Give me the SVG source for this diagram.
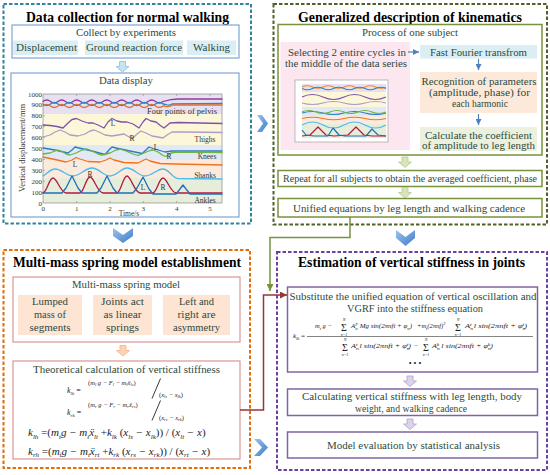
<svg xmlns="http://www.w3.org/2000/svg" width="550" height="475" viewBox="0 0 550 475" font-family="'Liberation Serif','DejaVu Serif','Noto Serif',serif">
<defs>
<style>
text{font-family:'Liberation Serif','DejaVu Serif','Noto Serif',serif}
.ttl{font-size:15px;font-weight:bold;fill:#000;text-anchor:middle}
.t{font-size:10.5px;fill:#2d4a3c;text-anchor:middle}
.ax{font-size:7px;fill:#333;text-anchor:end}
.axm{font-size:7px;fill:#333;text-anchor:middle}
.lb{font-size:7.5px;fill:#333;text-anchor:middle}
.eq{font-style:italic;fill:#222}
.sg{fill:#222;text-anchor:middle}
.c{fill:none;stroke-width:1.3;stroke-linejoin:round;stroke-linecap:round}
.mc{fill:none;stroke-width:1.2;stroke-linejoin:round}
.dash{fill:none;stroke-width:2;stroke-dasharray:3.5 2}
</style>
<linearGradient id="chev" x1="0" y1="0" x2="1" y2="1">
<stop offset="0" stop-color="#9cc3ec"/><stop offset="1" stop-color="#3d7cc9"/>
</linearGradient>
<path id="harrow" d="M-3,0h6v5h3.5l-6.5,5.5l-6.5,-5.5h3.5z"/>
<marker id="mBlue" markerWidth="6" markerHeight="6" refX="6" refY="3" orient="auto" markerUnits="userSpaceOnUse"><path d="M0,0L6,3L0,6z" fill="#4f81bd"/></marker>
<marker id="mGreen" markerWidth="7" markerHeight="7" refX="7" refY="3.5" orient="auto" markerUnits="userSpaceOnUse"><path d="M0,0L7,3.5L0,7z" fill="#77933c"/></marker>
<marker id="mRed" markerWidth="7" markerHeight="7" refX="7" refY="3.5" orient="auto" markerUnits="userSpaceOnUse"><path d="M0,0L7,3.5L0,7z" fill="#953735"/></marker>
</defs>
<rect width="550" height="475" fill="#fff"/>

<!-- Panel 1 -->
<g id="panel-data-collection">
<rect class="dash" x="3.5" y="4" width="247.5" height="219.5" stroke="#31849b"/>
<text class="ttl" x="127.5" y="22" textLength="203" lengthAdjust="spacingAndGlyphs">Data collection for normal walking</text>
</g>
<g id="node-collect">
<rect x="12" y="25" width="227" height="33" fill="#fff" stroke="#7ea6d3" stroke-width="1.2"/>
<text class="t" x="126" y="36" textLength="100" lengthAdjust="spacingAndGlyphs">Collect by experiments</text>
<rect x="13" y="40.5" width="65" height="14.5" fill="#dbeef4"/>
<rect x="85" y="40.5" width="98" height="14.5" fill="#dbeef4"/>
<rect x="187" y="40.5" width="49" height="14.5" fill="#dbeef4"/>
<text class="t" x="46.5" y="51" textLength="61" lengthAdjust="spacingAndGlyphs">Displacement</text>
<text class="t" x="134" y="51" textLength="96" lengthAdjust="spacingAndGlyphs">Ground reaction force</text>
<text class="t" x="211.5" y="51" textLength="37" lengthAdjust="spacingAndGlyphs">Walking</text>
</g>
<use href="#harrow" x="122.5" y="61.5" fill="#c6e3ee" stroke="#8fbcd8" stroke-width="0.8"/>
<g id="node-data-display">
<rect x="11" y="73" width="228" height="144" fill="#fff" stroke="#7ea6d3" stroke-width="1.2"/>
<text class="t" x="126" y="84" textLength="54" lengthAdjust="spacingAndGlyphs">Data display</text>
<rect x="43" y="94" width="179" height="20" fill="#e6e0f0"/>
<rect x="43" y="114" width="179" height="31" fill="#fdf7d9"/>
<rect x="43" y="145" width="179" height="15" fill="#e1eaf4"/>
<rect x="43" y="160" width="179" height="18" fill="#fcebdd"/>
<rect x="43" y="178" width="179" height="25" fill="#e6eedb"/>
<rect x="43" y="94" width="179" height="109" fill="none" stroke="#8a8a8a" stroke-width="0.7"/>
<g stroke="#8a8a8a" stroke-width="0.6">
<path d="M76.7,94v2M110,94v2M143.3,94v2M176.7,94v2M210,94v2M76.7,203v-2M110,203v-2M143.3,203v-2M176.7,203v-2M210,203v-2"/>
<path d="M43,104.9h2M43,115.8h2M43,126.7h2M43,137.6h2M43,148.5h2M43,159.4h2M43,170.3h2M43,181.2h2M43,192.1h2"/>
</g>
<g>
<text class="ax" x="42" y="96.5">1000</text><text class="ax" x="42" y="107.4">900</text><text class="ax" x="42" y="118.3">800</text>
<text class="ax" x="42" y="129.2">700</text><text class="ax" x="42" y="140.1">600</text><text class="ax" x="42" y="151">500</text>
<text class="ax" x="42" y="161.9">400</text><text class="ax" x="42" y="172.8">300</text><text class="ax" x="42" y="183.7">200</text>
<text class="ax" x="42" y="194.6">100</text><text class="ax" x="42" y="205.5">0</text>
</g>
<g>
<text class="axm" x="43.3" y="210.5">0</text><text class="axm" x="76.7" y="210.5">1</text><text class="axm" x="110" y="210.5">2</text>
<text class="axm" x="143.3" y="210.5">3</text><text class="axm" x="176.7" y="210.5">4</text><text class="axm" x="210" y="210.5">5</text>
</g>
<text class="lb" x="129" y="215.5">Time/s</text>
<text class="lb" font-size="8" transform="translate(25,148) rotate(-90)" textLength="88" lengthAdjust="spacingAndGlyphs">Vertical displacement/mm</text>
<path class="c" stroke="#8e3a9e" d="M43,101.5q3.75,-3 7.5,0t7.5,0t7.5,0t7.5,0t7.5,0t7.5,0t7.5,0t7.5,0t7.5,0t7.5,0t7.5,0t7.5,0t7.5,0t7.5,0t7.5,0t7.5,0C168,100 172,99 178,99L222,99"/>
<path class="c" stroke="#2e86c8" d="M43,104q3.75,3 7.5,0t7.5,0t7.5,0t7.5,0t7.5,0t7.5,0t7.5,0t7.5,0t7.5,0t7.5,0t7.5,0t7.5,0t7.5,0t7.5,0t7.5,0t7.5,0C167,104 168,107 172,104L222,103.5"/>
<path class="c" stroke="#e8702a" d="M43,106q3.75,-3 7.5,0t7.5,0t7.5,0t7.5,0t7.5,0t7.5,0t7.5,0t7.5,0t7.5,0t7.5,0t7.5,0t7.5,0t7.5,0t7.5,0t7.5,0t7.5,0C167,106 168,108 173,105L222,105"/>
<path class="c" stroke="#7d52a8" d="M43,125L50,125.5L57,126.5L63,128L68,123L72,119.5L76.5,118.5L82,121L88,123L93,123L98,125L104,128L108,122L112,118.5L117,121L122,122L127,122L133,124L139,128L143,122L146,118.5L151,121L156,122L161,126L164,128L170,123L178,122.5L200,123L222,123.5"/>
<path class="c" stroke="#ac9dc6" d="M43,137L50,135L55,132L60,130L65,132L70,135L78,136L85,134L90,131L94,130L99,132L105,135L112,136L118,135L124,134L129,137L133,138L137,134L141,131L146,133L152,136L158,137L163,138L167,135L172,132L185,132L222,132.5"/>
<path class="c" stroke="#2e7bc0" d="M43,148L55,150L68,153L72,150L75,147L79,148L92,151L105,154.5L109,150L112,147L116,148L130,151L142,153.5L146,150L149,147L153,148.5L165,152L172,151L222,151"/>
<path class="c" stroke="#6fb43f" d="M43,154L50,153L55,151L58,150L62,151.5L66,154L70,155L76,153L82,150L87,149L92,151L98,154L102,155L110,153L116,150L120,149L126,151L133,154L138,155.5L144,153L150,150.5L153,150L158,152L163,155.5L166,156.5L171,153L177,152L222,152.5"/>
<path class="c" stroke="#ed7422" d="M43,157L55,159.5L66,162L72,160L76,157.5L80,159L88,161.5L100,162L106,160L110,158L114,160L124,162.5L138,163L143,160.5L146,159L150,161L160,163.5L175,164L222,165"/>
<path class="c" stroke="#4bbbec" d="M43,176C47,174 50,169 55,169C62,169 66,176 73,176C80,176 85,168 92,168C99,168 103,176 110,176C117,176 121,168 127,168C134,168 138,176 145,176C152,176 157,169 163,169C169,169 172,178 178,178.5L222,179"/>
<path class="c" stroke="#b11a3e" d="M43,193C47,192 49,178 53,178C57,178 60,192 66,193L80,193C84,192 86,177 90,177C94,177 97,192 103,193L117,193C121,192 123,176 127,176C131,176 134,192 140,193L153,193C157,192 159,178 163,178C167,178 170,192 176,193L222,193"/>
<path class="c" stroke="#1f6fb8" d="M43,193L62,193L66,188L72,176L78,188L82,193L97,193L101,188L107,176L113,188L117,193L133,193L137,188L143,177L149,189L153,194L176,194L180,189L183,185L186,189L190,194L222,194"/>
<g>
<text class="lb" x="182" y="113.5" textLength="70" lengthAdjust="spacingAndGlyphs">Four points of pelvis</text>
<text class="lb" x="205" y="142">Thighs</text>
<text class="lb" x="207" y="159">Knees</text>
<text class="lb" x="205" y="177.5">Shanks</text>
<text class="lb" x="205" y="202.5">Ankles</text>
<text class="lb" x="113" y="126">L</text><text class="lb" x="132" y="141">R</text>
<text class="lb" x="156" y="149.5">L</text><text class="lb" x="169" y="158.5">R</text>
<text class="lb" x="75" y="167">L</text><text class="lb" x="90" y="177">R</text>
<text class="lb" x="143" y="190">L</text><text class="lb" x="163" y="190">R</text>
</g>
</g>

<!-- Panel 2 -->
<g id="panel-kinematics">
<rect class="dash" x="273.5" y="4" width="273.5" height="220.5" stroke="#4f6228"/>
<text class="ttl" x="410" y="21.5" textLength="224" lengthAdjust="spacingAndGlyphs">Generalized description of  kinematics</text>
</g>
<g id="node-process">
<rect x="278" y="24.5" width="264" height="130.5" fill="#fff" stroke="#77933c" stroke-width="1.5"/>
<text class="t" x="410" y="36" textLength="96" lengthAdjust="spacingAndGlyphs">Process of one subject</text>
</g>
<g id="node-selecting">
<rect x="280.5" y="42" width="129.5" height="108" fill="#fce6ef"/>
<text class="t" x="347" y="56" textLength="118" lengthAdjust="spacingAndGlyphs">Selecting 2 entire cycles in</text>
<text class="t" x="346" y="67" textLength="122" lengthAdjust="spacingAndGlyphs">the middle of the data series</text>
<rect x="295" y="80" width="93" height="62" fill="#fff" stroke="#a0a0a0" stroke-width="0.7"/>
<rect x="302" y="84" width="84" height="8" fill="#e6e0f0"/>
<rect x="302" y="92" width="84" height="15" fill="#fdf7d9"/>
<rect x="302" y="107" width="84" height="9" fill="#e1eaf4"/>
<rect x="302" y="116" width="84" height="8" fill="#fcebdd"/>
<rect x="302" y="124" width="84" height="14" fill="#e6eedb"/>
<path class="mc" stroke="#f08a24" stroke-width="1.8" d="M302,87q5.25,-2.5 10.5,0t10.5,0t10.5,0t10.5,0t10.5,0t10.5,0t10.5,0t10.5,0"/>
<path class="mc" stroke="#2e86c8" stroke-width="1.6" d="M302,88.5q5.25,2.5 10.5,0t10.5,0t10.5,0t10.5,0t10.5,0t10.5,0t10.5,0t10.5,0"/>
<path class="mc" stroke="#7d52a8" d="M302,97q10.5,-5 21,0t21,0t21,0t21,0"/>
<path class="mc" stroke="#ac9dc6" d="M302,103q10.5,3 21,0t21,0t21,0t21,0"/>
<path class="mc" stroke="#2e7bc0" d="M302,113q10.5,-3 21,0t21,0t21,0t21,0"/>
<path class="mc" stroke="#6fb43f" d="M302,112q7,-3 14,0t14,0t14,0t14,0t14,0t14,0"/>
<path class="mc" stroke="#ed7422" d="M302,118.5q10.5,-2.5 21,0t21,0t21,0t21,0"/>
<path class="mc" stroke="#4bbbec" d="M302,125q10.5,-6 21,0t21,0t21,0t21,0"/>
<path class="mc" stroke="#b11a3e" d="M302,136L310,135L318,127L326,135L334,136L348,135L356,127L364,135L372,136L386,136"/>
<path class="mc" stroke="#1f6fb8" d="M302,130L306,135L314,136L328,136L333,128L339,135L345,136L366,136L372,129L378,135L386,136"/>
</g>
<g id="node-fft">
<rect x="420" y="45" width="117" height="13.5" fill="#daeef3"/>
<text class="t" x="478.5" y="55.5" textLength="97" lengthAdjust="spacingAndGlyphs">Fast Fourier transfrom</text>
</g>
<g id="node-recognition">
<rect x="420" y="72" width="117" height="41" fill="#fde9d9"/>
<text class="t" x="479" y="85" textLength="115" lengthAdjust="spacingAndGlyphs">Recognition of parameters</text>
<text class="t" x="479.5" y="96" textLength="101" lengthAdjust="spacingAndGlyphs">(amplitude, phase) for</text>
<text class="t" x="480" y="107" textLength="56" lengthAdjust="spacingAndGlyphs">each harmonic</text>
</g>
<g id="node-coefficient">
<rect x="420" y="127" width="117" height="24" fill="#ebf1de"/>
<text class="t" x="478.5" y="138.5" textLength="107" lengthAdjust="spacingAndGlyphs">Calculate the coefficient</text>
<text class="t" x="478.5" y="149" textLength="113" lengthAdjust="spacingAndGlyphs">of amplitude to leg length</text>
</g>
<use href="#harrow" x="405" y="157" fill="#d7e4bd" stroke="#b5cc8e" stroke-width="0.8"/>
<g id="node-repeat">
<rect x="278" y="170.5" width="264" height="16" fill="#fff" stroke="#77933c" stroke-width="1.5"/>
<text class="t" x="410" y="182" textLength="254" lengthAdjust="spacingAndGlyphs">Repeat for all subjects to obtain the averaged coefficient, phase</text>
</g>
<use href="#harrow" x="405" y="187.5" fill="#d7e4bd" stroke="#b5cc8e" stroke-width="0.8"/>
<g id="node-unified">
<rect x="278" y="198.5" width="264" height="18.5" fill="#fff" stroke="#77933c" stroke-width="1.5"/>
<text class="t" x="409" y="211.5" textLength="232" lengthAdjust="spacingAndGlyphs">Unified equations by leg length and walking cadence</text>
</g>

<!-- Panel 3 -->
<g id="panel-spring-model">
<rect class="dash" x="3.5" y="250" width="246.5" height="218" stroke="#e46c0a"/>
<text class="ttl" x="127" y="267" textLength="228" lengthAdjust="spacingAndGlyphs">Multi-mass spring model establishment</text>
</g>
<g id="node-multimass">
<rect x="13" y="277" width="227" height="65" fill="#fff" stroke="#d99694" stroke-width="1.2"/>
<text class="t" x="126" y="288" textLength="108" lengthAdjust="spacingAndGlyphs">Multi-mass spring model</text>
<rect x="18" y="295" width="64" height="40" fill="#fde4d3"/>
<rect x="93" y="295" width="59" height="40" fill="#fde4d3"/>
<rect x="163" y="295" width="67" height="40" fill="#fde4d3"/>
<text class="t" x="50" y="305" textLength="36" lengthAdjust="spacingAndGlyphs">Lumped</text><text class="t" x="50" y="318" textLength="32" lengthAdjust="spacingAndGlyphs">mass of</text><text class="t" x="50" y="331" textLength="41" lengthAdjust="spacingAndGlyphs">segments</text>
<text class="t" x="122.5" y="305" textLength="43" lengthAdjust="spacingAndGlyphs">Joints act</text><text class="t" x="122.5" y="318" textLength="38" lengthAdjust="spacingAndGlyphs">as linear</text><text class="t" x="122.5" y="331" textLength="33" lengthAdjust="spacingAndGlyphs">springs</text>
<text class="t" x="196.5" y="305" textLength="35" lengthAdjust="spacingAndGlyphs">Left and</text><text class="t" x="196.5" y="318" textLength="38" lengthAdjust="spacingAndGlyphs">right are</text><text class="t" x="196.5" y="331" textLength="47" lengthAdjust="spacingAndGlyphs">asymmetry</text>
</g>
<use href="#harrow" x="123" y="345.5" fill="#fbd4b4" stroke="#f0b38a" stroke-width="0.8"/>
<g id="node-theoretical">
<rect x="13" y="361" width="227" height="98" fill="#fff" stroke="#d99694" stroke-width="1.2"/>
<text class="t" x="126.5" y="373" textLength="187" lengthAdjust="spacingAndGlyphs">Theoretical calculation of vertical stiffness</text>
<text class="eq" x="67" y="393" font-size="8">k<tspan font-size="5" dy="1.5">lk</tspan><tspan dy="-1.5" font-style="normal"> =</tspan></text>
<text class="eq" x="88" y="385" font-size="6.5"><tspan font-style="normal">(</tspan>m<tspan font-size="4.5" dy="1.2">l</tspan><tspan dy="-1.2"> g − F</tspan><tspan font-size="4.5" dy="1.2">l</tspan><tspan dy="-1.2"> − m</tspan><tspan font-size="4.5" dy="1.2">l</tspan><tspan dy="-1.2">ẍ</tspan><tspan font-size="4.5" dy="1.2">ls</tspan><tspan dy="-1.2" font-style="normal">)</tspan></text>
<text class="eq" x="159" y="397" font-size="6.5"><tspan font-style="normal">(</tspan>x<tspan font-size="4.5" dy="1.2">ls</tspan><tspan dy="-1.2"> − x</tspan><tspan font-size="4.5" dy="1.2">lk</tspan><tspan dy="-1.2" font-style="normal">)</tspan></text>
<text class="eq" x="67" y="415" font-size="8">k<tspan font-size="5" dy="1.5">rk</tspan><tspan dy="-1.5" font-style="normal"> =</tspan></text>
<text class="eq" x="88" y="407" font-size="6.5"><tspan font-style="normal">(</tspan>m<tspan font-size="4.5" dy="1.2">r</tspan><tspan dy="-1.2"> g − F</tspan><tspan font-size="4.5" dy="1.2">r</tspan><tspan dy="-1.2"> − m</tspan><tspan font-size="4.5" dy="1.2">r</tspan><tspan dy="-1.2">ẍ</tspan><tspan font-size="4.5" dy="1.2">rs</tspan><tspan dy="-1.2" font-style="normal">)</tspan></text>
<text class="eq" x="159" y="420" font-size="6.5"><tspan font-style="normal">(</tspan>x<tspan font-size="4.5" dy="1.2">rs</tspan><tspan dy="-1.2"> − x</tspan><tspan font-size="4.5" dy="1.2">rk</tspan><tspan dy="-1.2" font-style="normal">)</tspan></text>
<path d="M160.5,378.5L152,398.5M160.5,400.5L152,420.5" stroke="#222" stroke-width="0.9"/>
<text class="eq" x="28" y="436" font-size="11">k<tspan font-size="7" dy="2.5">lh</tspan><tspan dy="-2.5" font-style="normal"> =(</tspan>m<tspan font-size="7" dy="2.5">t</tspan><tspan dy="-2.5">g − m</tspan><tspan font-size="7" dy="2.5">t</tspan><tspan dy="-2.5">ẍ</tspan><tspan font-size="7" dy="2.5">lt</tspan><tspan dy="-2.5" font-style="normal"> +</tspan>k<tspan font-size="7" dy="2.5">lk</tspan><tspan dy="-2.5" font-style="normal"> (</tspan>x<tspan font-size="7" dy="2.5">ls</tspan><tspan dy="-2.5"> − x</tspan><tspan font-size="7" dy="2.5">lk</tspan><tspan dy="-2.5" font-style="normal">)) / (</tspan>x<tspan font-size="7" dy="2.5">lt</tspan><tspan dy="-2.5"> − x</tspan><tspan font-style="normal">)</tspan></text>
<text class="eq" x="28" y="454.5" font-size="11">k<tspan font-size="7" dy="2.5">rh</tspan><tspan dy="-2.5" font-style="normal"> =(</tspan>m<tspan font-size="7" dy="2.5">t</tspan><tspan dy="-2.5">g − m</tspan><tspan font-size="7" dy="2.5">t</tspan><tspan dy="-2.5">ẍ</tspan><tspan font-size="7" dy="2.5">rt</tspan><tspan dy="-2.5" font-style="normal"> +</tspan>k<tspan font-size="7" dy="2.5">rk</tspan><tspan dy="-2.5" font-style="normal"> (</tspan>x<tspan font-size="7" dy="2.5">rs</tspan><tspan dy="-2.5"> − x</tspan><tspan font-size="7" dy="2.5">rk</tspan><tspan dy="-2.5" font-style="normal">)) / (</tspan>x<tspan font-size="7" dy="2.5">rt</tspan><tspan dy="-2.5"> − x</tspan><tspan font-style="normal">)</tspan></text>
</g>

<!-- Panel 4 -->
<g id="panel-estimation">
<rect class="dash" x="277" y="252" width="270" height="218" stroke="#7040a0"/>
<text class="ttl" x="411.5" y="267" textLength="227" lengthAdjust="spacingAndGlyphs">Estimation of vertical stiffness in joints</text>
</g>
<g id="node-substitute">
<rect x="287.5" y="287" width="250" height="85" fill="#fff" stroke="#8064a2" stroke-width="1.5"/>
<text class="t" x="413" y="299.5" textLength="247" lengthAdjust="spacingAndGlyphs">Substitute the unified equation of vertical oscillation and</text>
<text class="t" x="415" y="312" textLength="136" lengthAdjust="spacingAndGlyphs">VGRF into the stiffness equation</text>
<text class="eq" x="293" y="338" font-size="7">k<tspan font-size="4.5" dy="1.5">lk</tspan><tspan dy="-1.5" font-style="normal"> =</tspan></text>
<text class="eq" x="315" y="328" font-size="6.5">m<tspan font-size="4.5" dy="1.5">t</tspan><tspan dy="-1.5"> g − </tspan></text>
<text class="sg" x="344" y="330.5" font-size="10">Σ</text>
<text class="eq" x="344" y="321" font-size="4" text-anchor="middle">N</text>
<text class="eq" x="344" y="336" font-size="4" text-anchor="middle">n=1</text>
<text class="eq" x="351" y="328" font-size="6.5" textLength="61" lengthAdjust="spacingAndGlyphs">A<tspan font-size="4.5" dy="1.5">n</tspan><tspan font-size="4.5" dx="-2.3" dy="-4">F</tspan><tspan dy="2.5"> Mg sin(2πnft + φ</tspan><tspan font-size="4.5" dy="1.5">n</tspan><tspan dy="-1.5">)</tspan></text>
<text class="eq" x="417" y="328" font-size="6.5">+m<tspan font-size="4.5" dy="1.5">t</tspan><tspan dy="-1.5">(2πnf)</tspan><tspan font-size="4.5" dy="-3">2</tspan></text>
<text class="sg" x="458" y="330.5" font-size="10">Σ</text>
<text class="eq" x="458" y="321" font-size="4" text-anchor="middle">N</text>
<text class="eq" x="458" y="336" font-size="4" text-anchor="middle">n=1</text>
<text class="eq" x="465" y="328" font-size="6.5" textLength="62" lengthAdjust="spacingAndGlyphs">A<tspan font-size="4.5" dy="1.5">n</tspan><tspan font-size="4.5" dx="-2.3" dy="-4">t</tspan><tspan dy="2.5"> l sin(2πnft + φ</tspan><tspan font-size="4.5" dy="1.5">n</tspan><tspan font-size="4.5" dx="-2.3" dy="-4">t</tspan><tspan dy="2.5">)</tspan></text>
<line x1="307" y1="336.5" x2="533" y2="336.5" stroke="#333" stroke-width="0.6"/>
<text class="sg" x="345" y="350.5" font-size="10">Σ</text>
<text class="eq" x="345" y="341" font-size="4" text-anchor="middle">N</text>
<text class="eq" x="345" y="356" font-size="4" text-anchor="middle">n=1</text>
<text class="eq" x="351" y="348" font-size="6.5" textLength="60" lengthAdjust="spacingAndGlyphs">A<tspan font-size="4.5" dy="1.5">n</tspan><tspan font-size="4.5" dx="-2.3" dy="-4">t</tspan><tspan dy="2.5"> l sin(2πnft + φ</tspan><tspan font-size="4.5" dy="1.5">n</tspan><tspan font-size="4.5" dx="-2.3" dy="-4">t</tspan><tspan dy="2.5">)</tspan></text>
<text class="eq" x="416" y="348" font-size="6.5" text-anchor="middle">−</text>
<text class="sg" x="426" y="350.5" font-size="10">Σ</text>
<text class="eq" x="426" y="341" font-size="4" text-anchor="middle">N</text>
<text class="eq" x="426" y="356" font-size="4" text-anchor="middle">n=1</text>
<text class="eq" x="432" y="348" font-size="6.5" textLength="61" lengthAdjust="spacingAndGlyphs">A<tspan font-size="4.5" dy="1.5">n</tspan><tspan font-size="4.5" dx="-2.3" dy="-4">k</tspan><tspan dy="2.5"> l sin(2πnft + φ</tspan><tspan font-size="4.5" dy="1.5">n</tspan><tspan font-size="4.5" dx="-2.3" dy="-4">k</tspan><tspan dy="2.5">)</tspan></text>
<text class="sg" x="415" y="366" font-size="8">• • •</text>
</g>
<use href="#harrow" x="410" y="376" fill="#ddd3ea" stroke="#b3a2c7" stroke-width="0.8"/>
<g id="node-calculating">
<rect x="287.5" y="389" width="250" height="26.5" fill="#fff" stroke="#8064a2" stroke-width="1.5"/>
<text class="t" x="412" y="400" textLength="220" lengthAdjust="spacingAndGlyphs">Calculating vertical stiffness with leg length, body</text>
<text class="t" x="411" y="411.5" textLength="112" lengthAdjust="spacingAndGlyphs">weight, and walking cadence</text>
</g>
<use href="#harrow" x="410" y="419" fill="#ddd3ea" stroke="#b3a2c7" stroke-width="0.8"/>
<g id="node-evaluation">
<rect x="287.5" y="432" width="250" height="26" fill="#fff" stroke="#8064a2" stroke-width="1.5"/>
<text class="t" x="413.5" y="449" textLength="173" lengthAdjust="spacingAndGlyphs">Model evaluation by statistical analysis</text>
</g>

<!-- Connectors -->
<g id="connectors">
<path d="M408,52H419" stroke="#4f81bd" stroke-width="1.2" fill="none" marker-end="url(#mBlue)"/>
<path d="M478.5,59V70" stroke="#4f81bd" stroke-width="1.2" fill="none" marker-end="url(#mBlue)"/>
<path d="M478.5,114V125" stroke="#4f81bd" stroke-width="1.2" fill="none" marker-end="url(#mBlue)"/>
<path d="M350,217V237.5H270V291" stroke="#77933c" stroke-width="1.5" fill="none" marker-end="url(#mGreen)"/>
<path d="M240,410H263.5V295H287" stroke="#953735" stroke-width="1.5" fill="none" marker-end="url(#mRed)"/>
<polygon points="257,115 262,115 268,123.5 262,132 257,132 263,123.5" fill="url(#chev)"/>
<polygon points="254,439 260,439 268,447.5 260,456 254,456 262,447.5" fill="url(#chev)"/>
<polygon points="113,228 123,235 133,228 133,236 123,243 113,236" fill="url(#chev)"/>
<polygon points="396,230 405.5,237 415,230 415,238 405.5,246 396,238" fill="url(#chev)"/>
</g>
</svg>
